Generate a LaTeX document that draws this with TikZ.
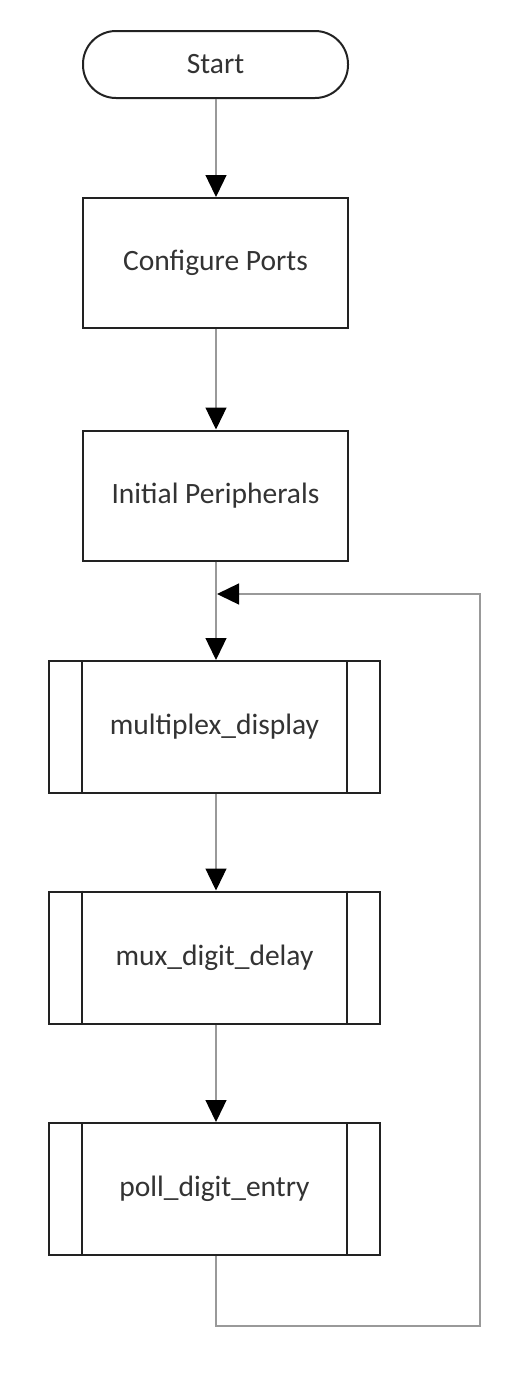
\documentclass[tikz,border=0pt]{standalone}
\usepackage{fontspec}
\setmainfont{Carlito}
\usetikzlibrary{arrows.meta,positioning}
\definecolor{boxline}{HTML}{222222}
\definecolor{conn}{HTML}{999999}
\definecolor{txt}{HTML}{333333}
\tikzset{
  x=1pt,y=-1pt,
  base/.style={draw=boxline,line width=2pt,fill=white,text=txt,font=\fontsize{29.5}{34}\selectfont,inner sep=0pt},
  term/.style={base,rounded corners=33pt,minimum width=265pt,minimum height=67pt},
  procbox/.style={base,minimum width=265pt,minimum height=130pt},
  subbox/.style={base,minimum width=331pt,minimum height=132pt},
  conn/.style={draw=conn,line width=1.3pt},
  flow/.style={conn,-{Triangle[length=22pt,width=21pt,color=black]}},
}
\newcommand{\subbars}[1]{%
  \draw[boxline,line width=2pt] ([xshift=34pt]#1.north west) -- ([xshift=34pt]#1.south west);
  \draw[boxline,line width=2pt] ([xshift=-34pt]#1.north east) -- ([xshift=-34pt]#1.south east);}
\begin{document}
\begin{tikzpicture}
\useasboundingbox (0,0) rectangle (510,1377);
\node[term] (start) at (215.5,64.5) {Start};
\node[procbox] (cfg) at (215.5,263) {Configure Ports};
\node[procbox] (init) at (215.5,495.5) {Initial Peripherals};
\node[subbox] (mux) at (214.5,727) {multiplex\_display};
\node[subbox] (dly) at (214.5,957.5) {mux\_digit\_delay};
\node[subbox] (poll) at (214.5,1189) {poll\_digit\_entry};
\subbars{mux}
\subbars{dly}
\subbars{poll}
\coordinate (merge) at (216,594);
\coordinate (bl) at (216,1326);
\coordinate (br) at (480,1326);
\coordinate (tr) at (480,594);
\draw[flow] (start.south -| 216,0) -- (cfg.north -| 216,0);
\draw[flow] (cfg.south -| 216,0) -- (init.north -| 216,0);
\draw[flow] (init.south -| 216,0) -- (mux.north -| 216,0);
\draw[flow] (mux.south -| 216,0) -- (dly.north -| 216,0);
\draw[flow] (dly.south -| 216,0) -- (poll.north -| 216,0);
\draw[conn] (poll.south -| 216,0) -- (bl) -- (br) -- (tr) -- (tr -| 240,0);
\draw[flow] (tr) -- ([xshift=1pt]merge);
\end{tikzpicture}
\end{document}
